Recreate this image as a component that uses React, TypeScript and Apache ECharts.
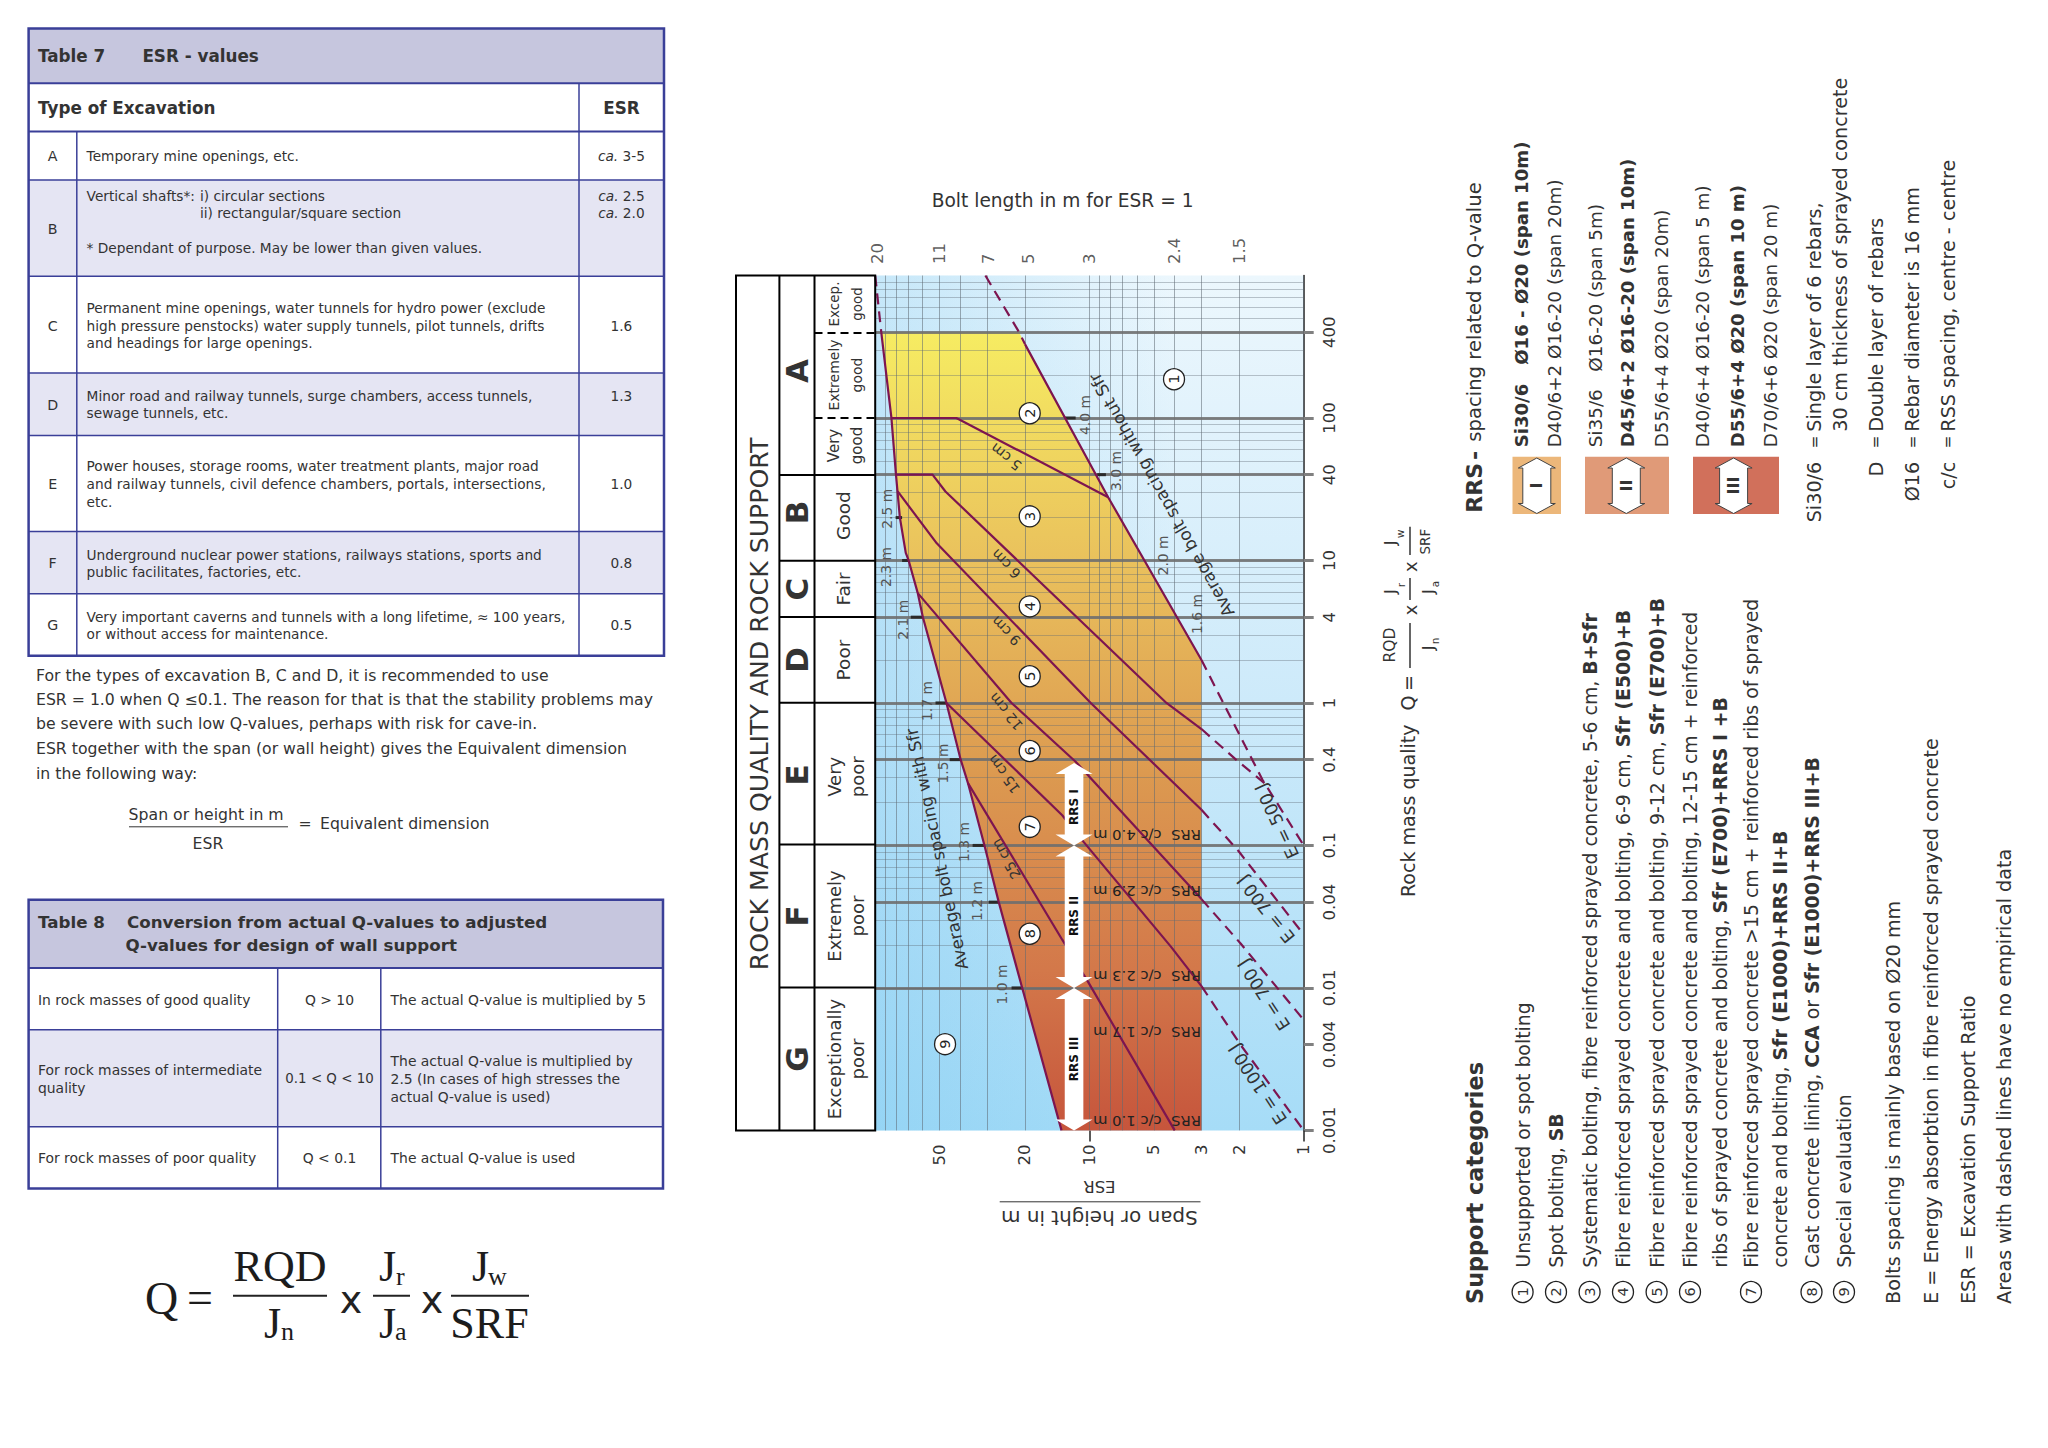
import React, { useEffect, useRef } from "react";
import * as echarts from "echarts";

const FONT = "DejaVu Sans";
const SERIF = "Liberation Serif";
const MAROON = "#7d1550";
const NAVY = "#3a3f98";
const INK = "#333333";

// ---- chart data (span/ESR, Q) ----
const qTicks = [0.001, 0.004, 0.01, 0.04, 0.1, 0.4, 1, 4, 10, 40, 100, 400];
const spanLabels = [1, 2, 3, 5, 10, 20, 50];
const spanTickMarks = [1, 10];
const spanGrid = [1, 2, 3, 4, 5, 6, 7, 8, 9, 10, 20, 30, 40, 50, 60, 70, 80, 90, 100];
const qDecades = [0.001, 0.01, 0.1, 1, 10, 100];
const qSteps = [1, 2, 3, 4, 5, 6, 7, 8, 9];
const boltLabels: [number, string][] = [[98, "20"], [50, "11"], [29.5, "7"], [19.3, "5"], [10, "3"], [4, "2.4"], [2, "1.5"]];

const boundaryLeft = [[93.7, 400], [84, 100], [80, 40], [76.7, 20], [72, 11.3], [69.8, 10], [63.3, 5.9], [59.9, 4], [46.5, 1], [39.9, 0.4], [36.9, 0.274], [30.9, 0.1], [26.5, 0.04], [20.6, 0.01], [13.5, 0.001]];
const boundaryRight = [[20, 330], [8.18, 27.8], [3, 2]];
const regionCorners = [[3, 0.001], [3, 2], [8.18, 27.8], [20, 330], [21.3, 400]];
const line2 = [[84, 100], [41.8, 100], [8.18, 27.8]];
const line3 = [[80, 40], [54, 40], [47, 30.5], [4.37, 1], [3, 0.656]];
const line4 = [[78.5, 30.5], [51.6, 13.2], [9.86, 1], [3, 0.178]];
const line5 = [[63.3, 5.9], [23.1, 1], [11.6, 0.387], [3, 0.042]];
const line6 = [[46.5, 1], [13.4, 0.163], [10.6, 0.105], [4.16, 0.0194], [3, 0.0103]];
const line7 = [[36.9, 0.274], [13.4, 0.0218], [10.1, 0.0109], [4, 0.001]];
const dashTopLeft = [[100, 1000], [93.7, 400]];
const dashTopRight = [[30.6, 1000], [21.3, 400], [20, 330]];
const dashE500 = [[3, 2], [1.56, 0.29], [1, 0.1]];
const dashBranch = [[3, 0.656], [2.07, 0.4], [1.49, 0.266]];
const dashE700a = [[3, 0.178], [2.02, 0.0917], [1, 0.0237]];
const dashE700b = [[3, 0.042], [1.97, 0.0205], [1, 0.00596]];
const dashE1000 = [[3, 0.0103], [1.97, 0.00398], [1, 0.001]];
const boltTicks = [[13, 11.6, 100], [9.2, 8.38, 40], [80.3, 74.9, 20], [74.9, 69.8, 10], [68.2, 59.9, 4], [52.3, 46.5, 1], [44.9, 39.9, 0.4], [35.1, 30.9, 0.1], [29.5, 26.5, 0.04], [23.1, 20.6, 0.01]];
const rrsSpan = 11.8;
const rrsRanges = [[0.379, 0.1], [0.1, 0.01], [0.01, 0.001]];
const circled: [number, number, string][] = [[4.03, 187, "1"], [19, 108, "2"], [19, 20.4, "3"], [19, 4.76, "4"], [19, 1.54, "5"], [19, 0.46, "6"], [19, 0.135, "7"], [19, 0.024, "8"], [47.2, 0.00403, "9"]];

// ---- texts ----
const table7Rows: [string, string[], string][] = [
  ["A", ["Temporary mine openings, etc."], "ca. 3-5"],
  ["C", ["Permanent mine openings, water tunnels for hydro power (exclude", "high pressure penstocks) water supply tunnels, pilot tunnels, drifts", "and headings for large openings."], "1.6"],
  ["D", ["Minor road and railway tunnels, surge chambers, access tunnels,", "sewage tunnels, etc."], "1.3"],
  ["E", ["Power houses, storage rooms, water treatment plants, major road", "and railway tunnels, civil defence chambers, portals, intersections,", "etc."], "1.0"],
  ["F", ["Underground nuclear power stations, railways stations, sports and", "public facilitates, factories, etc."], "0.8"],
  ["G", ["Very important caverns and tunnels with a long lifetime, \u2248 100 years,", "or without access for maintenance."], "0.5"],
];
const paragraph = [
  "For the types of excavation B, C and D, it is recommended to use",
  "ESR = 1.0 when Q \u22640.1. The reason for that is that the stability problems may",
  "be severe with such low Q-values, perhaps with risk for cave-in.",
  "ESR together with the span (or wall height) gives the Equivalent dimension",
  "in the following way:",
];
const supportRows: [string | null, string, number][] = [
  ["1", "Unsupported or spot bolting", 1522.6],
  ["2", "Spot bolting, {b|SB}", 1556],
  ["3", "Systematic bolting, fibre reinforced sprayed concrete, 5-6 cm, {b|B+Sfr}", 1589.6],
  ["4", "Fibre reinforced sprayed concrete and bolting, 6-9 cm, {b|Sfr (E500)+B}", 1623],
  ["5", "Fibre reinforced sprayed concrete and bolting, 9-12 cm, {b|Sfr (E700)+B}", 1656.6],
  ["6", "Fibre reinforced sprayed concrete and bolting, 12-15 cm + reinforced", 1690],
  [null, "ribs of sprayed concrete and bolting, {b|Sfr (E700)+RRS I +B}", 1719.7],
  ["7", "Fibre reinforced sprayed concrete >15 cm + reinforced ribs of sprayed", 1751],
  [null, "concrete and bolting, {b|Sfr (E1000)+RRS II+B}", 1780],
  ["8", "Cast concrete lining, {b|CCA} or {b|Sfr (E1000)+RRS III+B}", 1811.5],
  ["9", "Special evaluation", 1844],
];
const footNotes: [string, number][] = [
  ["Bolts spacing is mainly based on \u00d820 mm", 1893],
  ["E = Energy absorbtion in fibre reinforced sprayed concrete", 1931],
  ["ESR = Excavation Support Ratio", 1968],
  ["Areas with dashed lines have no empirical data", 2004.7],
];
const rrsRows: [string, number, boolean][] = [
  ["Si30/6   \u00d816 - \u00d820 (span 10m)", 1521.9, true],
  ["D40/6+2 \u00d816-20 (span 20m)", 1554.7, false],
  ["Si35/6   \u00d816-20 (span 5m)", 1595, false],
  ["D45/6+2 \u00d816-20 (span 10m)", 1627, true],
  ["D55/6+4 \u00d820 (span 20m)", 1661, false],
  ["D40/6+4 \u00d816-20 (span 5 m)", 1702.5, false],
  ["D55/6+4 \u00d820 (span 10 m)", 1737, true],
  ["D70/6+6 \u00d820 (span 20 m)", 1770, false],
];
const rrsKeys: [string, string, number][] = [
  ["Si30/6", "Single layer of 6 rebars,", 1814.6],
  ["D", "Double layer of rebars", 1876.4],
  ["\u00d816", "Rebar diameter is 16 mm", 1912.6],
  ["c/c", "RSS spacing, centre - centre", 1948],
];
const boltSpacingLabels: [string, number, number][] = [
  ["4.0 m", 1085, 415], ["3.0 m", 1115.5, 471], ["2.0 m", 1163, 555.4], ["1.6 m", 1197, 614],
  ["2.5 m", 887, 508.7], ["2.3 m", 885.7, 567], ["2.1 m", 903, 619.7], ["1.7 m", 926.8, 701],
  ["1.5 m", 943.3, 763.6], ["1.3 m", 964, 842], ["1.2 m", 977, 901], ["1.0 m", 1001.9, 984.6],
];
const cmLabels: [string, number, number, number][] = [
  ["5 cm", 1006, 457, 142], ["6 cm", 1006, 564, 135], ["9 cm", 1006, 631, 135],
  ["12 cm", 1006, 711.5, 130], ["15 cm", 1004, 774, 126], ["25 cm", 1006, 859, 120],
];
const energyLabels: [string, number, number, number][] = [
  ["E = 500 J", 1277, 821, 115], ["E = 700 J", 1266, 909, 129], ["E = 700 J", 1264, 994.6, 123], ["E = 1000 J", 1257.7, 1084, 123],
];
const rrsSpacing: [string, number][] = [["RRS  c/c 4.0 m", 835], ["RRS  c/c 2.9 m", 891.8], ["RRS  c/c 2.3 m", 976.8], ["RRS  c/c 1.7 m", 1032.9], ["RRS  c/c 1.0 m", 1121.4]];
const rrsNames: [string, number][] = [["RRS I", 807], ["RRS II", 916], ["RRS III", 1059]];
const classLetters: [string, number][] = [["A", 371], ["B", 512.5], ["C", 589], ["D", 660], ["E", 775], ["F", 916], ["G", 1059]];
const classRows: [string[], number, number][] = [
  [["Excep.", "good"], 304, 13.5], [["Extremely", "good"], 375, 14], [["Very", "good"], 445.5, 15],
  [["Good"], 515.6, 18.5], [["Fair"], 589, 18.5], [["Poor"], 660, 18.5],
  [["Very", "poor"], 776.8, 18], [["Extremely", "poor"], 916, 18], [["Exceptionally", "poor"], 1059, 18],
];

// ---- measuring: choose a font size that gives the reference's line length ----
const measureCtx = document.createElement("canvas").getContext("2d")!;
function textWidth(text: string, weight: string, family: string) {
  let w = 0;
  const parts = text.split(/(\{b\|[^}]*\})/);
  parts.forEach((p) => {
    const bold = p.startsWith("{b|");
    const s = bold ? p.slice(3, -1) : p;
    measureCtx.font = `${bold ? "bold" : weight} 100px "${family}"`;
    w += measureCtx.measureText(s).width;
  });
  return w / 100;
}
const fit = (text: string, px: number, weight = "normal", family = FONT) => Math.round((px / textWidth(text, weight, family)) * 10) / 10;

// ---- graphic helpers ----
const RAD = Math.PI / 180;
function T(x: number, y: number, text: string, size: number, o: any = {}) {
  const fam = o.family || FONT;
  const fill = o.color || INK;
  return {
    type: "text", x, y, rotation: (o.rot || 0) * RAD, z: 50, silent: true,
    style: {
      x: 0, y: 0, text, fontSize: size, fontFamily: fam, fontWeight: o.weight || "normal", fontStyle: o.italic ? "italic" : "normal",
      fill, align: o.align || "left", verticalAlign: "middle",
      rich: o.rich ? {
        b: { fontSize: size, fontFamily: fam, fontWeight: "bold", fill },
        i: { fontSize: size, fontFamily: fam, fontStyle: "italic", fill },
      } : undefined,
    },
  };
}
function L(x1: number, y1: number, x2: number, y2: number, color = "#000", w = 1, dash?: number[]) {
  return { type: "line", z: 40, silent: true, shape: { x1, y1, x2, y2 }, style: { stroke: color, lineWidth: w, lineDash: dash } };
}
function R(x: number, y: number, w: number, h: number, fill: string, stroke = "none", lw = 0) {
  return { type: "rect", z: 30, silent: true, shape: { x, y, width: w, height: h }, style: { fill, stroke, lineWidth: lw } };
}
function legendArrow(cx: number, y1: number, y2: number) {
  const s = 14, h = 18.5, hl = 10;
  return {
    type: "polygon", z: 42, silent: true,
    shape: { points: [[cx, y1], [cx + h, y1 + hl], [cx + s, y1 + hl], [cx + s, y2 - hl], [cx + h, y2 - hl], [cx, y2], [cx - h, y2 - hl], [cx - s, y2 - hl], [cx - s, y1 + hl], [cx - h, y1 + hl]] },
    style: { fill: "#fff", stroke: "#444", lineWidth: 1 },
  };
}

function buildGraphics() {
  const g: any[] = [];
  // Table 7
  const t7L = 28.6, t7R = 664, c1 = 76.8, c2 = 579;
  g.push(R(t7L, 28.6, t7R - t7L, 54.7, "#c6c6de"));
  g.push(R(t7L, 180, t7R - t7L, 96.2, "#e5e5f3"));
  g.push(R(t7L, 373, t7R - t7L, 62.4, "#e5e5f3"));
  g.push(R(t7L, 531.6, t7R - t7L, 62.1, "#e5e5f3"));
  [83.3, 131.4].forEach((y) => g.push(L(t7L, y, t7R, y, NAVY, 2)));
  [180, 276.2, 373, 435.4, 531.6, 593.7].forEach((y) => g.push(L(t7L, y, t7R, y, NAVY, 1.5)));
  g.push(L(c1, 131.4, c1, 655.7, NAVY, 1.5));
  g.push(L(c2, 83.3, c2, 655.7, NAVY, 1.5));
  g.push({ type: "rect", z: 41, silent: true, shape: { x: t7L, y: 28.6, width: t7R - t7L, height: 627.1 }, style: { fill: "none", stroke: NAVY, lineWidth: 2.5 } });
  const headSize = fit("Type of Excavation", 178, "bold");
  g.push(T(38, 56.4, "Table 7", headSize, { weight: "bold" }));
  g.push(T(142.4, 56.4, "ESR - values", headSize, { weight: "bold" }));
  g.push(T(38, 108.4, "Type of Excavation", headSize, { weight: "bold" }));
  g.push(T(621.4, 108.4, "ESR", headSize, { weight: "bold", align: "center" }));
  const bodySize = Math.min(
    fit("Permanent mine openings, water tunnels for hydro power (exclude", 472.8),
    fit("Very important caverns and tunnels with a long lifetime, \u2248 100 years,", 478)
  );
  const rowY: Record<string, [number, number[], number]> = {
    A: [156, [156], 156], C: [325.7, [308, 325.7, 343], 325.7], D: [404.6, [396, 413.3], 396],
    E: [484, [466, 484, 501.7], 484], F: [563.3, [554.6, 572], 563.3], G: [625, [616.7, 634], 625],
  };
  table7Rows.forEach(([k, lines, esr]) => {
    const [cy, ys, ey] = rowY[k];
    g.push(T(52.7, cy, k, bodySize + 0.5, { align: "center" }));
    lines.forEach((s, i) => g.push(T(86.6, ys[i], s, bodySize)));
    g.push(T(621.4, ey, esr.replace("ca.", "{i|ca.}"), bodySize, { align: "center", rich: true }));
  });
  g.push(T(52.7, 228.5, "B", bodySize + 0.5, { align: "center" }));
  g.push(T(86.6, 195.6, "Vertical shafts*:", bodySize));
  g.push(T(200, 195.6, "i) circular sections", bodySize));
  g.push(T(200, 213.4, "ii) rectangular/square section", bodySize));
  g.push(T(86.6, 248, "* Dependant of purpose. May be lower than given values.", bodySize));
  g.push(T(621.4, 195.6, "{i|ca.} 2.5", bodySize, { align: "center", rich: true }));
  g.push(T(621.4, 213.4, "{i|ca.} 2.0", bodySize, { align: "center", rich: true }));
  // Paragraph
  const paraSize = fit(paragraph[1], 615.5);
  [675.6, 699.7, 723.8, 748.4, 773].forEach((y, i) => g.push(T(36, y, paragraph[i], paraSize)));
  g.push(T(128.6, 814, "Span or height in m", paraSize));
  g.push(L(129, 826.8, 288, 826.8, INK, 1));
  g.push(T(208, 843, "ESR", paraSize, { align: "center" }));
  g.push(T(305, 823.8, "=", paraSize, { align: "center" }));
  g.push(T(320, 823.8, "Equivalent dimension", paraSize));
  // Table 8
  const t8L = 28.6, t8R = 663;
  g.push(R(t8L, 899.7, t8R - t8L, 68.3, "#c6c6de"));
  g.push(R(t8L, 1029.8, t8R - t8L, 97, "#e5e5f3"));
  g.push(L(t8L, 968, t8R, 968, NAVY, 2));
  [1029.8, 1126.8].forEach((y) => g.push(L(t8L, y, t8R, y, NAVY, 1.5)));
  [277.7, 380.8].forEach((x) => g.push(L(x, 968, x, 1188.6, NAVY, 1.5)));
  g.push({ type: "rect", z: 41, silent: true, shape: { x: t8L, y: 899.7, width: t8R - t8L, height: 288.9 }, style: { fill: "none", stroke: NAVY, lineWidth: 2.5 } });
  const h8 = fit("Conversion from actual Q-values to adjusted", 421, "bold");
  g.push(T(38, 921.8, "Table 8", h8, { weight: "bold" }));
  g.push(T(127, 921.8, "Conversion from actual Q-values to adjusted", h8, { weight: "bold" }));
  g.push(T(125.5, 945.4, "Q-values for design of wall support", h8, { weight: "bold" }));
  const b8 = fit("The actual Q-value is multiplied by 5", 255);
  g.push(T(38, 999.7, "In rock masses of good quality", b8));
  g.push(T(329.5, 999.7, "Q > 10", b8, { align: "center" }));
  g.push(T(390.6, 999.7, "The actual Q-value is multiplied by 5", b8));
  g.push(T(38, 1070, "For rock masses of intermediate", b8));
  g.push(T(38, 1087.6, "quality", b8));
  g.push(T(329.5, 1078.6, "0.1 < Q < 10", b8 - 0.5, { align: "center" }));
  g.push(T(390.6, 1061, "The actual Q-value is multiplied by", b8));
  g.push(T(390.6, 1078.6, "2.5 (In cases of high stresses the", b8));
  g.push(T(390.6, 1096.7, "actual Q-value is used)", b8));
  g.push(T(38, 1157.5, "For rock masses of poor quality", b8));
  g.push(T(329.5, 1157.5, "Q < 0.1", b8, { align: "center" }));
  g.push(T(390.6, 1157.5, "The actual Q-value is used", b8));
  // Big formula
  const S = { family: SERIF, color: "#1c1c1c" };
  g.push(T(145, 1298, "Q", 46, S));
  g.push(T(187, 1297, "=", 46, S));
  g.push(T(280, 1266.5, "RQD", 44, { ...S, align: "center" }));
  g.push(T(264, 1323, "J", 44, S));
  g.push(T(281, 1331, "n", 26, S));
  g.push(L(233, 1295.7, 327, 1295.7, "#222", 2));
  g.push(T(351, 1300, "x", 38, { align: "center", color: "#222" }));
  g.push(T(379, 1266.5, "J", 44, S));
  g.push(T(396, 1276, "r", 26, S));
  g.push(L(373, 1295.7, 410, 1295.7, "#222", 2));
  g.push(T(379, 1323, "J", 44, S));
  g.push(T(395, 1331, "a", 26, S));
  g.push(T(432, 1300, "x", 38, { align: "center", color: "#222" }));
  g.push(T(472, 1266.5, "J", 44, S));
  g.push(T(488, 1276, "w", 26, S));
  g.push(L(451, 1295.7, 529, 1295.7, "#222", 2));
  g.push(T(489.5, 1323, "SRF", 44, { ...S, align: "center" }));
  // Rock-quality table
  const P = { top: 275.5, bottom: 1130.4, a: 736, b: 779.4, c: 814.5, d: 875.2 };
  g.push({ type: "rect", z: 41, silent: true, shape: { x: P.a, y: P.top, width: P.d - P.a, height: P.bottom - P.top }, style: { fill: "none", stroke: "#000", lineWidth: 2 } });
  g.push(L(P.b, P.top, P.b, P.bottom, "#000", 2));
  g.push(L(P.c, P.top, P.c, P.bottom, "#000", 2));
  [475, 560.7, 617, 702.7, 844.6, 987.5].forEach((y) => g.push(L(P.b, y, P.d, y, "#000", 2)));
  [333, 418].forEach((y) => g.push(L(P.c, y, P.d, y, "#000", 2, [8, 5])));
  const title = "ROCK MASS QUALITY AND ROCK SUPPORT";
  g.push(T(759, 704, title, fit(title, 533), { rot: 90, align: "center" }));
  classLetters.forEach(([s, y]) => g.push(T(797, y, s, 31, { rot: 90, align: "center", weight: "bold" })));
  classRows.forEach(([ls, y, size]) => {
    if (ls.length === 1) g.push(T(843.6, y, ls[0], size, { rot: 90, align: "center" }));
    else { g.push(T(834, y, ls[0], size, { rot: 90, align: "center" })); g.push(T(857, y, ls[1], size, { rot: 90, align: "center" })); }
  });
  // Chart annotations
  const boltTitle = "Bolt length in m for ESR = 1";
  g.push(T(1062.6, 200.6, boltTitle, fit(boltTitle, 262), { align: "center" }));
  boltSpacingLabels.forEach(([s, x, y]) => g.push(T(x, y, s, fit("4.0 m", 40), { rot: 90, align: "center", color: "#555" })));
  cmLabels.forEach(([s, x, y, r]) => g.push(T(x, y, s, 14, { rot: r, align: "center", color: "#333" })));
  const eSize = fit("E = 500 J", 81);
  energyLabels.forEach(([s, x, y, r]) => g.push(T(x, y, s, eSize, { rot: r, align: "center" })));
  const t1 = "Average bolt spacing without Sfr", t2 = "Average bolt spacing with Sfr";
  g.push(T(1161.5, 495, t1, fit(t1, 277), { rot: 119.5, align: "center" }));
  g.push(T(936.8, 849, t2, fit(t2, 247), { rot: 102, align: "center" }));
  rrsSpacing.forEach(([s, y]) => g.push(T(1147, y, s, fit(s, 108), { rot: 180, align: "center", color: "#222" })));
  rrsNames.forEach(([s, y]) => g.push(T(1074.3, y, s, 12, { rot: 90, align: "center", color: "#111", weight: "bold" })));
  const spanT = "Span or height in m";
  g.push(T(1099.4, 1217, spanT, fit(spanT, 197), { rot: 180, align: "center" }));
  g.push(L(999.7, 1201.8, 1200.5, 1201.8, "#333", 1));
  g.push(T(1099.4, 1186.4, "ESR", 16.5, { rot: 180, align: "center" }));
  // Rock mass quality formula
  const rmq = "Rock mass quality";
  const rs = fit(rmq, 172);
  g.push(T(1408, 897, rmq, rs, { rot: 90 }));
  g.push(T(1408, 703, "Q", rs, { rot: 90, align: "center" }));
  g.push(T(1408, 683, "=", rs, { rot: 90, align: "center" }));
  g.push(T(1390, 645, "RQD", 15.5, { rot: 90, align: "center" }));
  g.push(L(1410, 623, 1410, 668, INK, 1.5));
  g.push(T(1428, 648, "J", 16, { rot: 90, align: "center" }));
  g.push(T(1435, 641, "n", 10.5, { rot: 90, align: "center" }));
  g.push(T(1410, 610, "x", 18, { rot: 90, align: "center" }));
  g.push(T(1390, 591.7, "J", 16, { rot: 90, align: "center" }));
  g.push(T(1400.5, 585, "r", 10.5, { rot: 90, align: "center" }));
  g.push(L(1410, 578, 1410, 600, INK, 1.5));
  g.push(T(1428, 591.7, "J", 16, { rot: 90, align: "center" }));
  g.push(T(1435, 584, "a", 10.5, { rot: 90, align: "center" }));
  g.push(T(1410, 566.7, "x", 18, { rot: 90, align: "center" }));
  g.push(T(1390, 543, "J", 16, { rot: 90, align: "center" }));
  g.push(T(1400, 534, "w", 10.5, { rot: 90, align: "center" }));
  g.push(L(1410, 526.7, 1410, 555, INK, 1.5));
  g.push(T(1425, 541.7, "SRF", 13.5, { rot: 90, align: "center" }));
  // RRS legend
  const sp = "spacing related to Q-value";
  g.push(T(1474.6, 512.7, "RRS", 22, { rot: 90, weight: "bold" }));
  g.push(T(1474.6, 460, "-", 22, { rot: 90, weight: "bold" }));
  g.push(T(1474.6, 441.7, sp, fit(sp, 260), { rot: 90 }));
  const rrN = fit(rrsRows[1][0], 267.3), rrB = fit(rrsRows[0][0], 305.6, "bold");
  rrsRows.forEach(([s, x, b]) => g.push(T(x, 447.3, s, b ? rrB : rrN, { rot: 90, weight: b ? "bold" : "normal" })));
  g.push(R(1512.5, 456.7, 48.5, 57.3, "#ecb77a"));
  g.push(R(1585, 456.7, 84, 57.3, "#e09a78"));
  g.push(R(1693, 456.7, 86, 57.3, "#d1705b"));
  g.push(legendArrow(1536.8, 458, 513.5));
  g.push(legendArrow(1626.3, 458, 513.5));
  g.push(legendArrow(1733.6, 458, 513.5));
  const lab = [["I", 1536.8], ["II", 1626.3], ["III", 1733.6]] as [string, number][];
  lab.forEach(([s, x]) => g.push(T(x, 485.5, s, 16, { rot: 90, align: "center", weight: "bold" })));
  const keyLine = "30 cm thickness of sprayed concrete";
  const keySize = fit(keyLine, 355);
  rrsKeys.forEach(([k, s, x]) => {
    g.push(T(x, 461.7, k, keySize, { rot: 90, align: "right" }));
    g.push(T(x, 448.3, "=", 15, { rot: 90 }));
    g.push(T(x, 431.7, s, keySize, { rot: 90 }));
  });
  g.push(T(1840, 431.7, keyLine, keySize, { rot: 90 }));
  // Support categories
  const sc = "Support categories";
  g.push(T(1475.3, 1304, sc, fit(sc, 242, "bold"), { rot: 90, weight: "bold" }));
  const supSize = fit(supportRows[2][1], 655);
  supportRows.forEach(([n, s, x]) => {
    if (n) {
      g.push({ type: "circle", z: 42, silent: true, shape: { cx: x, cy: 1292, r: 10.5 }, style: { fill: "#fff", stroke: "#222", lineWidth: 1.3 } });
      g.push(T(x, 1292, n, 14.5, { rot: 90, align: "center" }));
    }
    g.push(T(x, 1267.7, s, supSize, { rot: 90, rich: true }));
  });
  const noteSize = fit(footNotes[1][0], 565);
  footNotes.forEach(([s, x]) => g.push(T(x, 1304, s, noteSize, { rot: 90 })));
  return g;
}

// ---- series helpers ----
const lineSeries = (data: number[][], dashed = false, width = 2.2, color = MAROON, z = 3) => ({
  type: "line", data, showSymbol: false, symbol: "none", clip: false, silent: true, z, xAxisIndex: 0, yAxisIndex: 0,
  lineStyle: { color, width, type: dashed ? [11, 7] : "solid", cap: "butt" },
});
const polyRender = (points: number[][], fill: any) => (_p: any, api: any) => ({
  type: "polygon", shape: { points: points.map((pt) => api.coord(pt)) }, style: { fill },
});

export default function App() {
  const ref = useRef<HTMLDivElement>(null);
  useEffect(() => {
    const chart = echarts.init(ref.current!, undefined, { renderer: "svg" });
    const qMinor = qDecades.flatMap((d) => qSteps.map((m) => d * m));
    const plotCorners = [[100, 1000], [1, 1000], [1, 0.001], [100, 0.001]];
    const region = [...boundaryLeft, ...regionCorners];
    chart.setOption({
      animation: false,
      backgroundColor: "#ffffff",
      grid: {
        left: 875.2, top: 275.5, width: 428.5, height: 854.9, show: true, borderWidth: 0, z: 0,
        backgroundColor: new echarts.graphic.LinearGradient(0, 0, 0, 1, [
          { offset: 0, color: "#ecf7fd" }, { offset: 0.5, color: "#cdeafa" }, { offset: 1, color: "#a6dcf7" },
        ]),
      },
      xAxis: {
        type: "log", logBase: 10, min: 1, max: 100, inverse: true, position: "bottom",
        axisLine: { show: false }, splitLine: { show: false }, minorTick: { show: false },
        axisTick: { show: true, customValues: spanTickMarks, length: 11, lineStyle: { color: "#222", width: 1.5 } },
        axisLabel: { customValues: spanLabels, rotate: 90, margin: 14, fontFamily: FONT, fontSize: 16.5, color: INK, formatter: (v: number) => String(v) },
      },
      yAxis: {
        type: "log", logBase: 10, min: 0.001, max: 1000, position: "right",
        axisLine: { show: true, onZero: false, lineStyle: { color: "#222", width: 1.5 } }, splitLine: { show: false }, minorTick: { show: false },
        axisTick: { show: true, customValues: qTicks, length: 10, lineStyle: { color: "#808080", width: 3 } },
        axisLabel: { customValues: qTicks, rotate: 90, margin: 17, fontFamily: FONT, fontSize: 16.5, color: INK, formatter: (v: number) => String(v) },
      },
      series: [
        { type: "custom", coordinateSystem: "cartesian2d", silent: true, z: 0, data: [[10, 1]], clip: false,
          renderItem: polyRender(plotCorners, new echarts.graphic.LinearGradient(0, 0, 1, 0, [
            { offset: 0, color: "rgba(110,195,240,0.3)" }, { offset: 0.7, color: "rgba(110,195,240,0.0)" },
          ])) },
        { type: "custom", coordinateSystem: "cartesian2d", silent: true, z: 1, data: [[10, 1]], clip: false,
          renderItem: polyRender(region, new echarts.graphic.LinearGradient(0, 0, 0, 1, [
            { offset: 0, color: "#f6ec62" }, { offset: 0.3, color: "#e9bf5c" }, { offset: 0.55, color: "#dc9a50" },
            { offset: 0.8, color: "#d3784a" }, { offset: 1, color: "#c6553c" },
          ])) },
        {
          type: "line", data: [[10, 1]], showSymbol: false, symbol: "none", silent: true, z: 2, lineStyle: { width: 0 },
          markLine: {
            z: 2, silent: true, symbol: ["none", "none"], label: { show: false }, animation: false,
            lineStyle: { color: "rgba(95,105,115,0.55)", width: 1, type: "solid" },
            data: spanGrid.map((v) => ({ xAxis: v })),
          },
        },
        {
          type: "line", data: [[10, 1]], showSymbol: false, symbol: "none", silent: true, z: 2, lineStyle: { width: 0 },
          markLine: {
            z: 2, silent: true, symbol: ["none", "none"], label: { show: false }, animation: false,
            lineStyle: { color: "rgba(95,105,115,0.38)", width: 1, type: "solid" },
            data: qMinor.map((v) => ({ yAxis: v })),
          },
        },
        {
          type: "line", data: [[10, 1]], showSymbol: false, symbol: "none", silent: true, z: 2, lineStyle: { width: 0 },
          markLine: {
            z: 2, silent: true, symbol: ["none", "none"], label: { show: false }, animation: false,
            lineStyle: { color: "rgba(110,110,110,0.85)", width: 3, type: "solid" },
            data: qTicks.map((v) => ({ yAxis: v })),
          },
        },
        ...boltTicks.map(([a, b, q]) => lineSeries([[a, q], [b, q]], false, 3, "#2a2a2a", 3)),
        lineSeries(boundaryLeft),
        lineSeries(boundaryRight),
        lineSeries(line2), lineSeries(line3), lineSeries(line4), lineSeries(line5), lineSeries(line6), lineSeries(line7),
        lineSeries(dashTopLeft, true), lineSeries(dashTopRight, true), lineSeries(dashE500, true), lineSeries(dashBranch, true),
        lineSeries(dashE700a, true), lineSeries(dashE700b, true), lineSeries(dashE1000, true),
        {
          type: "custom", coordinateSystem: "cartesian2d", silent: true, z: 4, clip: false,
          data: rrsRanges.map(([a, b]) => [rrsSpan, a, b]),
          encode: { x: 0, y: [1, 2] },
          renderItem: (_p: any, api: any) => {
            const p1 = api.coord([api.value(0), api.value(1)]);
            const p2 = api.coord([api.value(0), api.value(2)]);
            const cx = p1[0], y1 = p1[1], y2 = p2[1], s = 9.3, h = 18.5, hl = 11;
            return {
              type: "polygon",
              shape: { points: [[cx, y1], [cx + h, y1 + hl], [cx + s, y1 + hl], [cx + s, y2 - hl], [cx + h, y2 - hl], [cx, y2], [cx - h, y2 - hl], [cx - s, y2 - hl], [cx - s, y1 + hl], [cx - h, y1 + hl]] },
              style: { fill: "#fff" },
            };
          },
        },
        {
          type: "scatter", silent: true, z: 5, clip: false, symbol: "circle", symbolSize: 21,
          data: circled,
          itemStyle: { color: "#fff", borderColor: "#222", borderWidth: 1.3, opacity: 1 },
          label: { show: true, position: "inside", rotate: 90, fontFamily: FONT, fontSize: 14.5, color: "#222", formatter: (p: any) => p.value[2] },
        },
        {
          type: "scatter", silent: true, z: 5, clip: false, symbolSize: 1,
          data: boltLabels.map(([span, s]) => [span, 1000, s]),
          itemStyle: { color: "transparent" },
          label: { show: true, position: "top", distance: 11, align: "left", verticalAlign: "middle", rotate: 90, fontFamily: FONT, fontSize: 16.5, color: INK, formatter: (p: any) => p.value[2] },
        },
      ],
      graphic: { elements: buildGraphics() },
    });
    return () => chart.dispose();
  }, []);
  return <div ref={ref} style={{ position: "absolute", left: 0, top: 0, width: 2048, height: 1448, background: "#fff" }} />;
}
